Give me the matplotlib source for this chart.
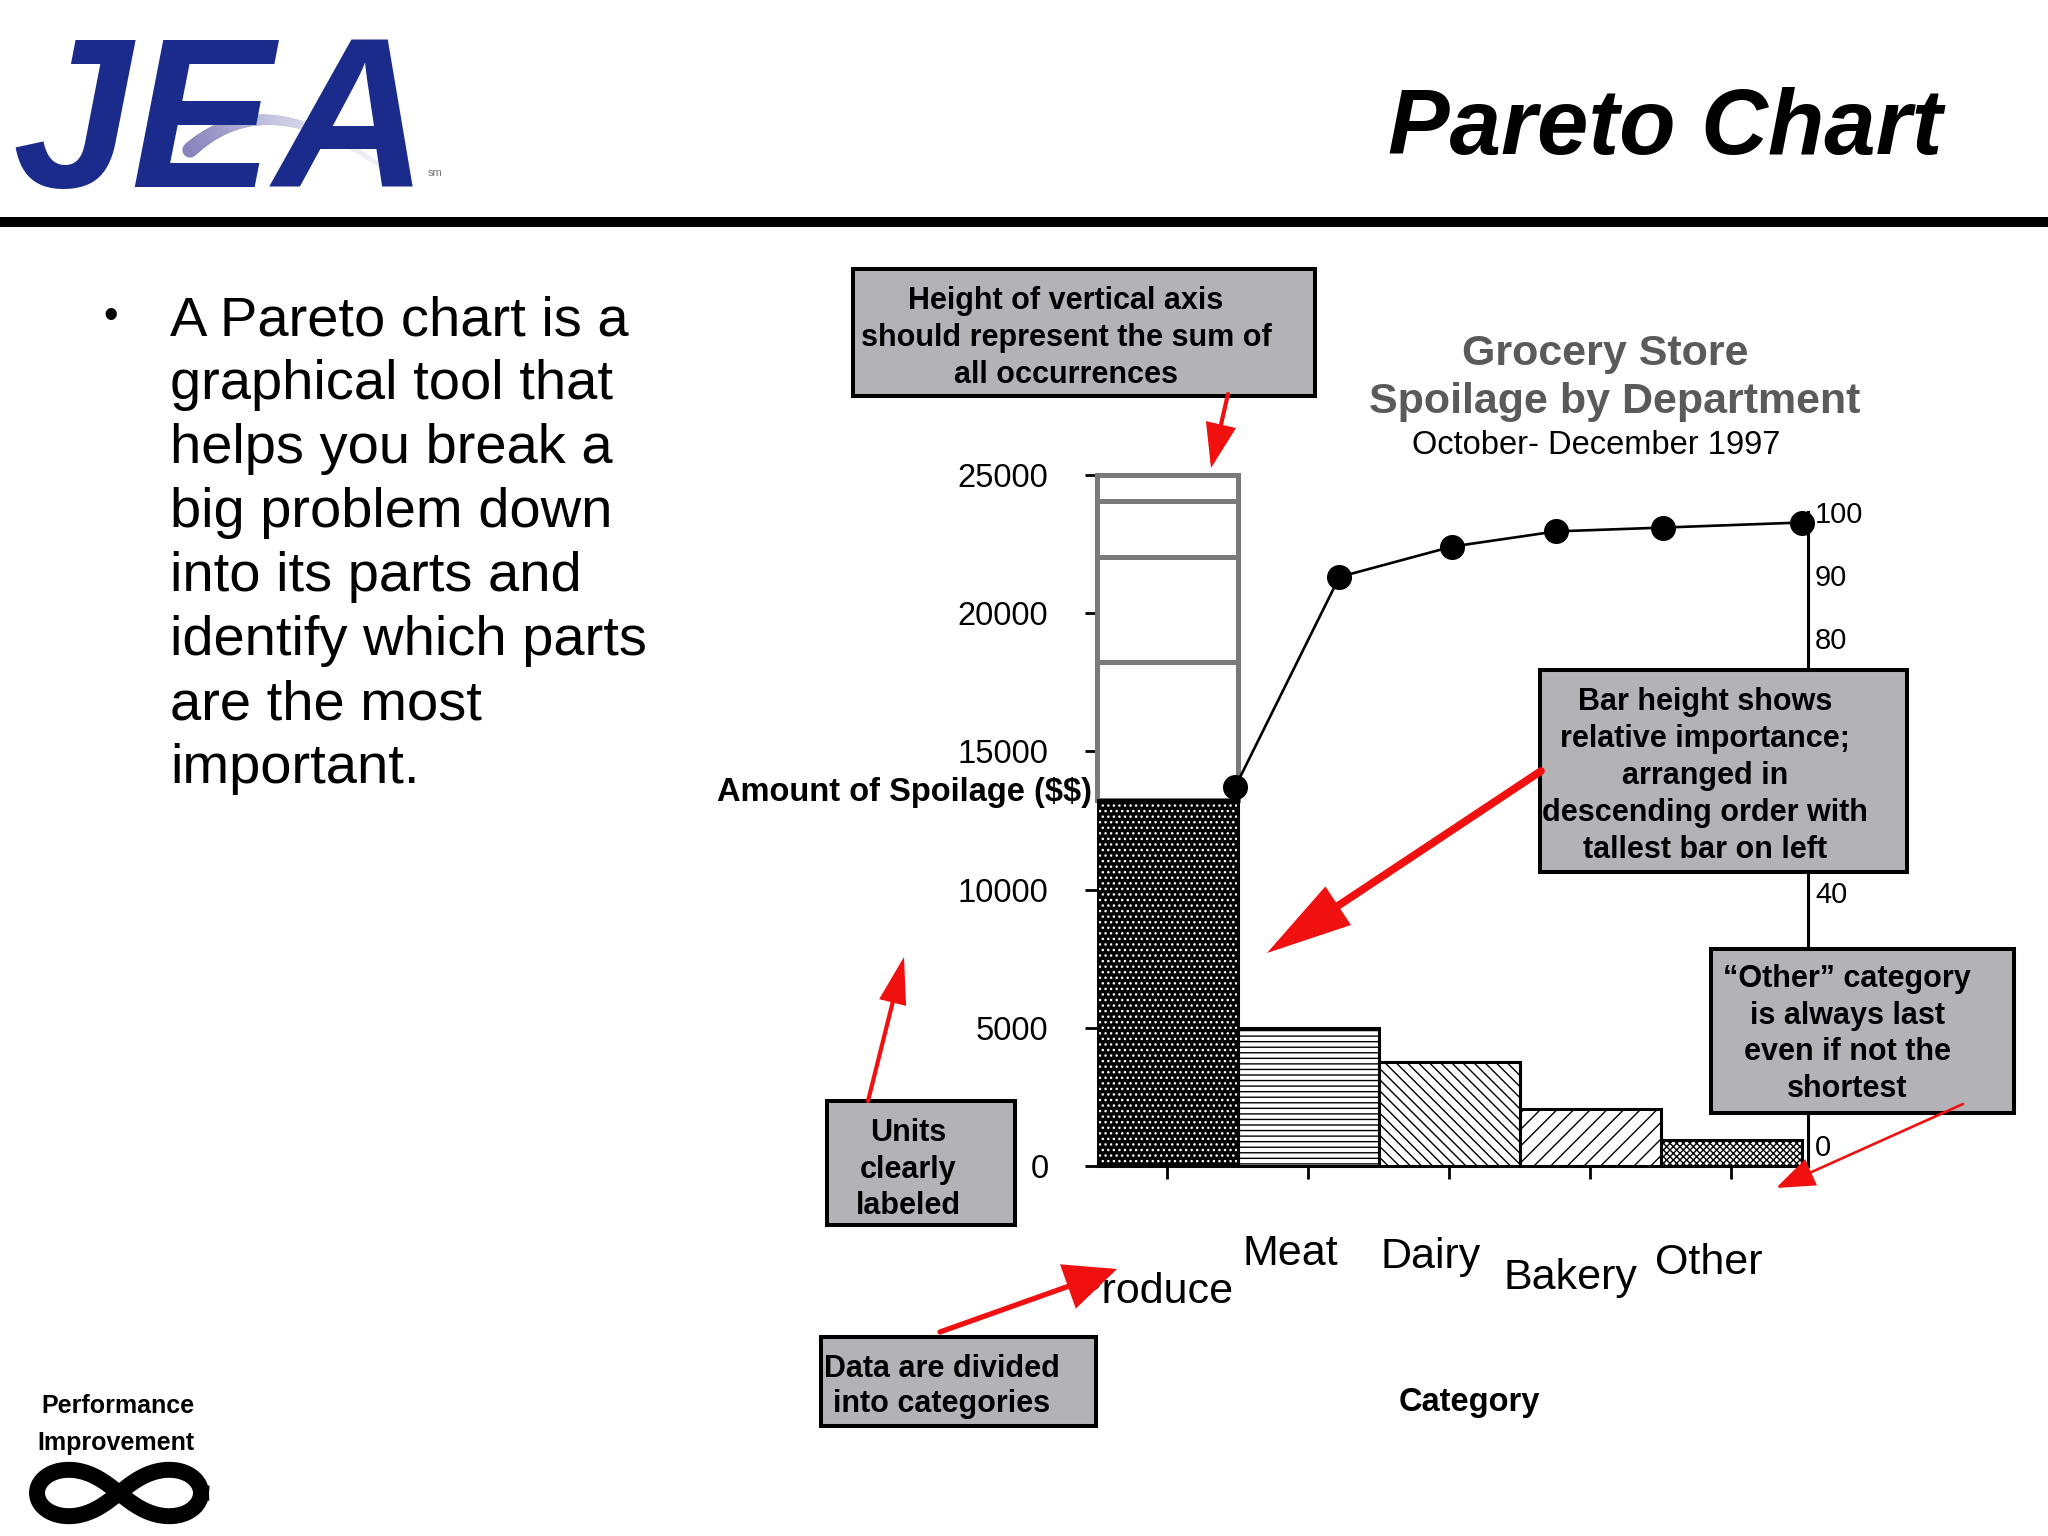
import numpy as np
import matplotlib
matplotlib.use("Agg")
import matplotlib.pyplot as plt
from matplotlib.patches import Rectangle, FancyArrowPatch
from matplotlib.collections import LineCollection

# data
categories = ["Produce", "Meat", "Dairy", "Bakery", "Other"]
spoilage = [13250, 5000, 3770, 2050, 930]
hatches = ["...", "---", "\\\\\\", "//", "xxxxx"]

# cumulative % dots, as drawn (x in bar units)
cum_at = [0.48, 1.22, 2.02, 2.76, 3.52, 4.5]
cum_pct = [56.5, 89.7, 94.5, 96.9, 97.5, 98.3]

left_ticks = [0, 5000, 10000, 15000, 20000, 25000]
right_ticks = [0, 40, 80, 90, 100]   # the others sit behind the notes

bullet_lines = ["A Pareto chart is a", "graphical tool that", "helps you break a",
                "big problem down", "into its parts and", "identify which parts",
                "are the most", "important."]

note_axis = ["Height of vertical axis", "should represent the sum of", "all occurrences"]
note_bar = ["Bar height shows", "relative importance;", "arranged in",
            "descending order with", "tallest bar on left"]
note_other = ["\u201cOther\u201d category", "is always last", "even if not the", "shortest"]
note_units = ["Units", "clearly", "labeled"]
note_cats = ["Data are divided", "into categories"]

plt.rcParams["font.family"] = ["Liberation Sans", "DejaVu Sans"]

W, H = 2048, 1536
fig = plt.figure(figsize=(W / 100, H / 100), dpi=100)
fig.patch.set_facecolor("white")

# ---- chart ----
ax = fig.add_axes([1097 / W, 1 - 1166 / H, (1808 - 1097) / W, (1166 - 475) / H])
ax.set_xlim(-0.5, 4.546)
ax.set_ylim(0, 25000)
x = np.arange(len(categories))
cum = np.cumsum(spoilage)

# stacked outline on the first bar = total of all occurrences
for i in range(1, len(spoilage)):
    ax.bar(0, spoilage[i], bottom=cum[i - 1], width=1, facecolor="white",
           edgecolor="#7a7a7a", lw=3.6, clip_on=False, zorder=2)

ax.bar(0, spoilage[0], width=1, color="black", lw=0, zorder=3)
ax.bar(0, spoilage[0], width=1, facecolor="none", edgecolor="white", hatch=hatches[0], lw=0, zorder=3)
ax.bar(0, spoilage[0], width=1, facecolor="none", edgecolor="black", lw=2.2, zorder=4)
for i in range(1, len(spoilage)):
    ax.bar(i, spoilage[i], width=1, facecolor="white", edgecolor="black",
           hatch=hatches[i], lw=2.2, zorder=3)

ax.set_yticks(left_ticks)
ax.set_xticks(x)
ax.set_xticklabels([])
ax.tick_params(axis="y", direction="out", length=9, width=2, pad=26, labelsize=23.5)
ax.tick_params(axis="x", direction="out", length=9, width=2)
for s in ["left", "top", "right"]:
    ax.spines[s].set_visible(False)
ax.spines["bottom"].set_linewidth(2.2)

label_dx = [-0.10, -0.13, -0.13, -0.14, -0.16]
label_dy = [-0.183, -0.127, -0.131, -0.162, -0.140]
for i, c in enumerate(categories):
    ax.text(i + label_dx[i], label_dy[i], c, transform=ax.get_xaxis_transform(),
            ha="center", va="center", fontsize=31)

ax2 = ax.twinx()
ax2.set_ylim(-3.3, 105.8)
ax2.set_yticks(right_ticks)
ax2.tick_params(axis="y", length=0, pad=5, labelsize=21)
for s in ["left", "top", "bottom"]:
    ax2.spines[s].set_visible(False)
ax2.spines["right"].set_linewidth(2.2)
ax2.spines["right"].set_bounds(-3.3, 100)
ax2.plot(cum_at, cum_pct, color="black", lw=1.9, marker="o", ms=17, clip_on=False, zorder=5)

# ---- overlay in pixel coords ----
ov = fig.add_axes([0, 0, 1, 1], zorder=10)
ov.set_xlim(0, W)
ov.set_ylim(H, 0)
ov.axis("off")
ov.patch.set_alpha(0)

# header
blue = "#1b2b8c"
ov.text(12, 187, "JEA", fontsize=154, fontweight="bold", fontstyle="italic",
        color=blue, va="baseline", ha="left")
t = np.linspace(0, 1, 80)
p0, c0, p2 = np.array([190, 150]), np.array([268, 80]), np.array([388, 172])
pts = ((1 - t) ** 2)[:, None] * p0 + (2 * t * (1 - t))[:, None] * c0 + (t ** 2)[:, None] * p2
segs = np.stack([pts[:-1], pts[1:]], axis=1)
cols = plt.cm.Purples(np.linspace(0.6, 0.08, len(segs)))
ov.add_collection(LineCollection(segs, colors=cols, linewidths=np.linspace(11, 3, len(segs)),
                                 capstyle="round"))
ov.text(428, 176, "sm", fontsize=8, color="#777777", ha="left", va="baseline")
ov.text(1942, 130, "Pareto Chart", fontsize=66.5, fontweight="bold", fontstyle="italic",
        ha="right", va="center")
ov.plot([0, W], [222, 222], color="black", lw=7.2, solid_capstyle="butt")

# bullet text
ov.text(111, 317, "\u2022", fontsize=30, ha="center", va="center")
for i, line in enumerate(bullet_lines):
    ov.text(170, 321 + 64 * i, line, fontsize=40.4, ha="left", va="center")

# chart titles
ov.text(1605, 354, "Grocery Store", fontsize=31, fontweight="bold", color="#5a5a5a",
        ha="center", va="center")
ov.text(1615, 402, "Spoilage by Department", fontsize=31, fontweight="bold", color="#5a5a5a",
        ha="center", va="center")
ov.text(1596, 446, "October- December 1997", fontsize=23.5, ha="center", va="center")
ov.text(1092, 793, r"Amount of Spoilage (\$\$)", fontsize=23.5, fontweight="bold",
        ha="right", va="center")
ov.text(1469, 1402, "Category", fontsize=23.5, fontweight="bold", ha="center", va="center")

# annotation boxes
gray = "#b3b3b7"


def note(x0, y0, x1, y1, lines, cx, cy, step):
    ov.add_patch(Rectangle((x0, y0), x1 - x0, y1 - y0, facecolor=gray,
                           edgecolor="black", lw=2.9))
    for k, ln in enumerate(lines):
        ov.text(cx, cy + 3 + step * k, ln, fontsize=22, fontweight="bold",
                ha="center", va="center")


note(853, 269, 1315, 396, note_axis, 1066, 298, 37)
note(1540, 670, 1907, 872, note_bar, 1705, 699, 37)
note(1711, 949, 2014, 1113, note_other, 1847, 976, 36.6)
note(827, 1101, 1015, 1225, note_units, 908, 1130, 36.6)
note(821, 1337, 1096, 1426, note_cats, 942, 1366, 35)

# red arrows
red = "#f01010"


def arrow(a, b, lw, hl, hw):
    ov.add_patch(FancyArrowPatch(a, b, arrowstyle="-|>,head_length=%g,head_width=%g" % (hl, hw),
                                 mutation_scale=1, lw=lw, color=red, shrinkA=0, shrinkB=0,
                                 joinstyle="miter"))


arrow((1228, 394), (1211, 468), 3, 26, 9)
arrow((1541, 771), (1267, 953), 5.6, 48, 13)
arrow((1963, 1104), (1776, 1188), 1.9, 24, 9)
arrow((868, 1101), (904, 957), 3, 27, 8)
arrow((940, 1332), (1117, 1269), 3.8, 31, 14)

# footer logo
ov.text(118, 1406, "Performance", fontsize=18, fontweight="bold", ha="center", va="center")
ov.text(116, 1443, "Improvement", fontsize=18, fontweight="bold", ha="center", va="center")
s = np.linspace(0, 2 * np.pi, 300)
lx = 119 + 82 * np.cos(s) / (1 + np.sin(s) ** 2)
ly = 1493 + 0.8 * 82 * np.sin(s) * np.cos(s) / (1 + np.sin(s) ** 2)
ov.plot(lx, ly, color="black", lw=11.5)

fig.savefig("out.png", dpi=100)
